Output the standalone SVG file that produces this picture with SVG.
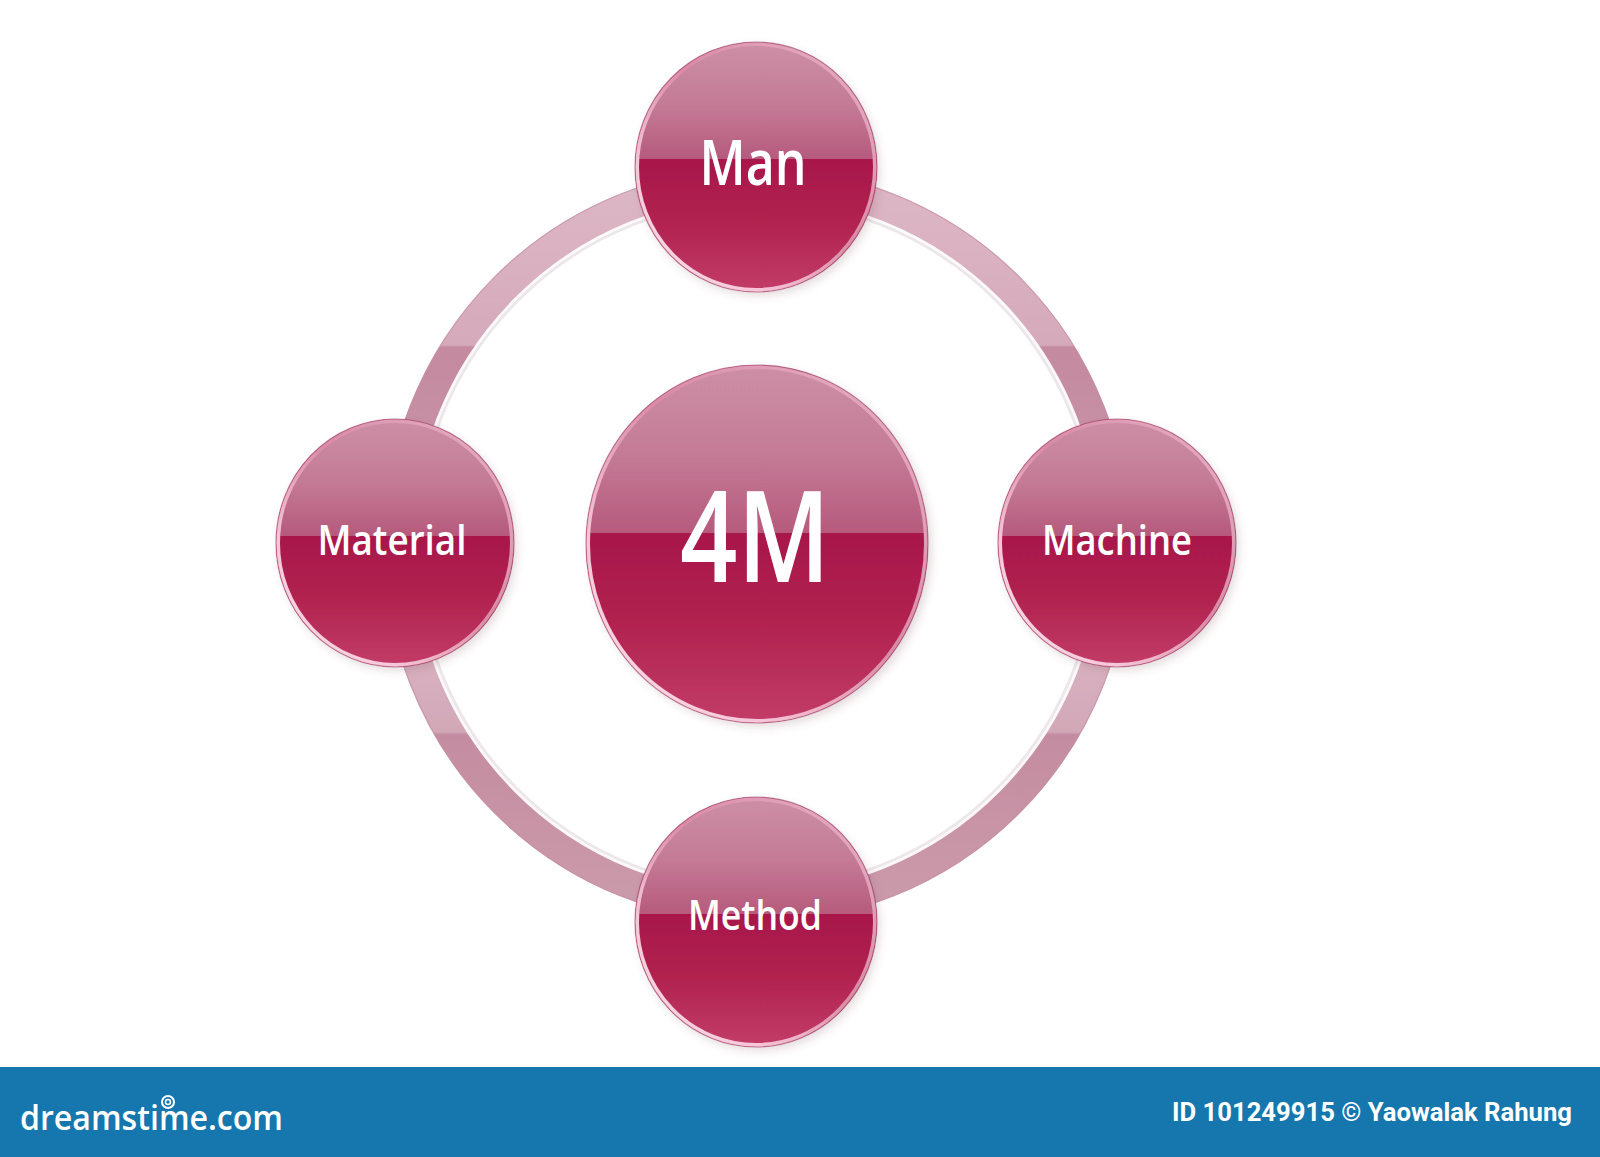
<svg xmlns="http://www.w3.org/2000/svg" width="1600" height="1157" viewBox="0 0 1600 1157">
<style>
  .lbl { font-family: "Open Sans", "DejaVu Sans", sans-serif; font-weight: 600; fill: #ffffff; text-anchor: middle; }
  .body { fill: url(#glass); }
  .rim { fill: none; stroke: url(#rimGrad); stroke-width: 4; }
  .rim2 { fill: none; stroke: #8e1d45; stroke-width: 1.2; stroke-opacity: 0.5; }
  .shadow { fill: #7a4a5c; fill-opacity: 0.2; filter: url(#blur); }
</style>
<defs>
  <linearGradient id="glass" x1="0" y1="0" x2="0" y2="1">
    <stop offset="0" stop-color="#cd8fa6"/>
    <stop offset="0.25" stop-color="#c47b96"/>
    <stop offset="0.47" stop-color="#b65a7c"/>
    <stop offset="0.47" stop-color="#a8164a"/>
    <stop offset="0.72" stop-color="#b1224f"/>
    <stop offset="1" stop-color="#c23d68"/>
  </linearGradient>
  <linearGradient id="rimGrad" x1="1" y1="0" x2="0" y2="1">
    <stop offset="0" stop-color="#e6b4c6"/>
    <stop offset="0.45" stop-color="#d98aa7"/>
    <stop offset="0.75" stop-color="#f6c6d8"/>
    <stop offset="1" stop-color="#fbe0ea"/>
  </linearGradient>
  <linearGradient id="ringGrad" gradientUnits="userSpaceOnUse" x1="0" y1="180" x2="0" y2="910">
    <stop offset="0" stop-color="#ddb7c5"/>
    <stop offset="0.226" stop-color="#d5aabb"/>
    <stop offset="0.229" stop-color="#c48a9f"/>
    <stop offset="0.40" stop-color="#c893a6"/>
    <stop offset="0.5" stop-color="#d0a2b2"/>
    <stop offset="0.63" stop-color="#d9b3c1"/>
    <stop offset="0.756" stop-color="#d2a8b7"/>
    <stop offset="0.760" stop-color="#c48ca0"/>
    <stop offset="1" stop-color="#cb9bab"/>
  </linearGradient>
  <filter id="blur" x="-20%" y="-20%" width="140%" height="140%">
    <feGaussianBlur stdDeviation="4"/>
  </filter>
</defs>

<rect x="0" y="0" width="1600" height="1157" fill="#ffffff"/>

<g id="connectors">
  <ellipse cx="757" cy="545" rx="358" ry="362" fill="none" stroke="url(#ringGrad)" stroke-width="31"/>
  <ellipse cx="757" cy="545" rx="373" ry="377" fill="none" stroke="#c890a4" stroke-width="1.2" stroke-opacity="0.7"/>
  <ellipse cx="757" cy="545" rx="343" ry="347" fill="none" stroke="#ffffff" stroke-width="2.2" stroke-opacity="0.9"/>
  <ellipse cx="757" cy="545" rx="340" ry="344" fill="none" stroke="#6a3a4c" stroke-width="3" stroke-opacity="0.12"/>
</g>

<g id="node-man">
  <ellipse class="shadow" cx="759" cy="171" rx="121" ry="125"/>
  <ellipse class="body" cx="756" cy="167" rx="121" ry="125"/>
  <ellipse class="rim" cx="756" cy="167" rx="119" ry="123"/>
  <ellipse class="rim2" cx="756" cy="167" rx="121" ry="125"/>
  <text class="lbl" x="753" y="185" font-size="63" textLength="107" lengthAdjust="spacingAndGlyphs">Man</text>
</g>

<g id="node-4m">
  <ellipse class="shadow" cx="761" cy="548" rx="171" ry="179"/>
  <ellipse class="body" cx="757" cy="544" rx="171" ry="179"/>
  <ellipse class="rim" cx="757" cy="544" rx="169" ry="177"/>
  <ellipse class="rim2" cx="757" cy="544" rx="171" ry="179"/>
  <text class="lbl" x="755" y="582" font-size="126" textLength="150" lengthAdjust="spacingAndGlyphs">4M</text>
</g>

<g id="node-material">
  <ellipse class="shadow" cx="398" cy="547" rx="119" ry="124"/>
  <ellipse class="body" cx="395" cy="543" rx="119" ry="124"/>
  <ellipse class="rim" cx="395" cy="543" rx="117" ry="122"/>
  <ellipse class="rim2" cx="395" cy="543" rx="119" ry="124"/>
  <text class="lbl" x="392" y="555" font-size="42" textLength="149" lengthAdjust="spacingAndGlyphs">Material</text>
</g>

<g id="node-machine">
  <ellipse class="shadow" cx="1120" cy="547" rx="119" ry="124"/>
  <ellipse class="body" cx="1117" cy="543" rx="119" ry="124"/>
  <ellipse class="rim" cx="1117" cy="543" rx="117" ry="122"/>
  <ellipse class="rim2" cx="1117" cy="543" rx="119" ry="124"/>
  <text class="lbl" x="1117" y="555" font-size="42" textLength="150" lengthAdjust="spacingAndGlyphs">Machine</text>
</g>

<g id="node-method">
  <ellipse class="shadow" cx="759" cy="926" rx="121" ry="125"/>
  <ellipse class="body" cx="756" cy="922" rx="121" ry="125"/>
  <ellipse class="rim" cx="756" cy="922" rx="119" ry="123"/>
  <ellipse class="rim2" cx="756" cy="922" rx="121" ry="125"/>
  <text class="lbl" x="755" y="930" font-size="42" textLength="134" lengthAdjust="spacingAndGlyphs">Method</text>
</g>

<g id="footer">
  <rect x="0" y="1067" width="1600" height="90" fill="#1577ae"/>
  <text x="20" y="1130" font-family="'Open Sans', 'DejaVu Sans', sans-serif" font-weight="600" font-size="34" fill="#ffffff" textLength="263" lengthAdjust="spacingAndGlyphs">dreamstime.com</text>
  <circle cx="168" cy="1102" r="6" fill="none" stroke="#ffffff" stroke-width="2"/>
  <circle cx="168" cy="1102" r="2.5" fill="none" stroke="#ffffff" stroke-width="1.5"/>
  <text x="1572" y="1121" text-anchor="end" font-family="Roboto, 'Liberation Sans', sans-serif" font-weight="700" font-size="25" fill="#ffffff" textLength="400" lengthAdjust="spacingAndGlyphs">ID 101249915 © Yaowalak Rahung</text>
</g>
</svg>
